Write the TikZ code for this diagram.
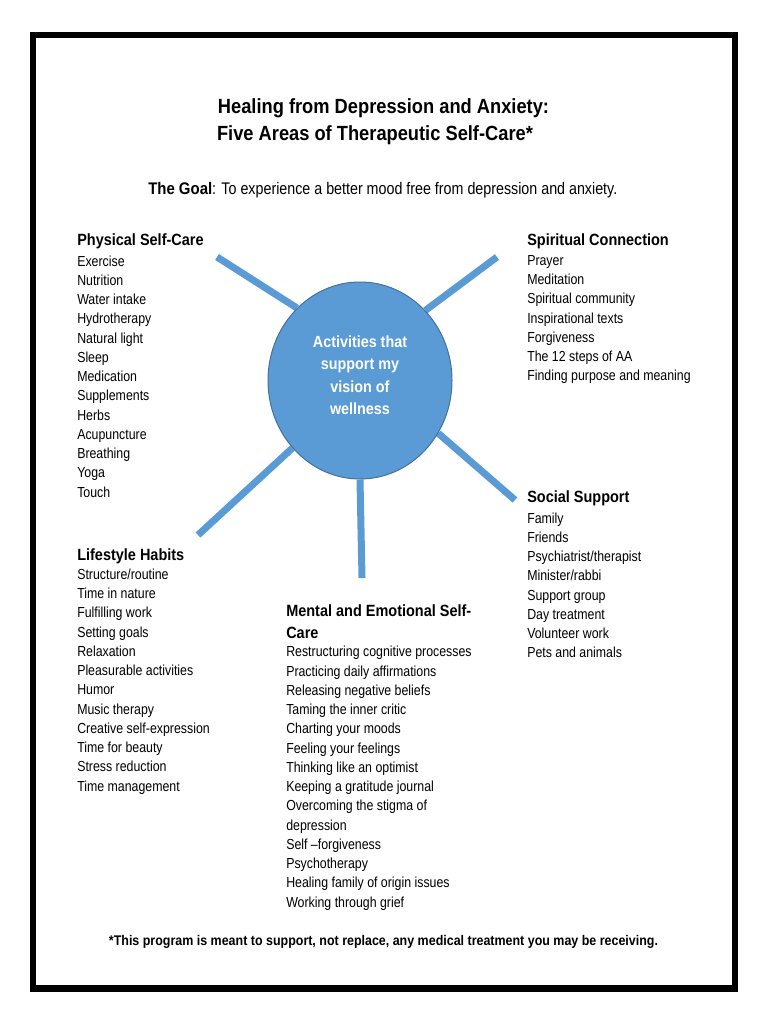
\documentclass[tikz,border=0pt]{standalone}
\usepackage{fontspec}
\setmainfont{Liberation Sans}[FakeStretch=0.85]
\newfontfamily\headfont{Liberation Sans}[FakeStretch=0.89]
\usetikzlibrary{shapes.geometric,backgrounds}

\begin{document}
\begin{tikzpicture}[x=0.75pt,y=0.75pt,yscale=-1,xscale=1,
  spoke/.style={draw={rgb, 255:red, 91; green, 155; blue, 213 }, line width=5.25},
  headtext/.style={anchor=base west, inner sep=0, font=\headfont\bfseries\fontsize{12.2}{16.7}\selectfont},
  itemtext/.style={anchor=north west, inner sep=0, align=left, font=\fontsize{10.9}{14.44}\selectfont}]
\useasboundingbox (0,0) rectangle (768,1024);

%Shape: Rectangle [frame]
\draw [line width=4.9]  (33,35) rectangle (735,988.5) ;

% Text Node
\draw (383.5,113.5) node (title) [anchor=base][inner sep=0] [font=\headfont\bfseries\fontsize{15.4}{18}\selectfont]  {Healing from Depression and Anxiety:};
% Text Node
\draw (375,140.7) node (subtitle) [anchor=base][inner sep=0] [font=\headfont\bfseries\fontsize{15.4}{18}\selectfont]  {Five Areas of Therapeutic Self-Care*};
% Text Node
\draw (148,194) node (goal) [anchor=base west][inner sep=0] [font=\fontsize{12.6}{15}\selectfont]  {{\headfont\bfseries The Goal}: To experience a better mood free from depression and anxiety.};

%Shape: Ellipse [hub]
\node (hub) [ellipse, draw={rgb, 255:red, 65; green, 113; blue, 156 }, line width=0.75, fill={rgb, 255:red, 91; green, 155; blue, 213 }, minimum width=138pt, minimum height=147.75pt, inner sep=0] at (360,380.5) {};
% Text Node
\node (hubtext) [align=center, inner sep=0, text=white, font=\headfont\bfseries\fontsize{12.1}{16.9}\selectfont] at ([yshift=-4pt]hub.center) {Activities that\\support my\\vision of\\wellness};

% spoke ends
\coordinate (physend) at (217,257);
\coordinate (spirend) at (497,257);
\coordinate (lifeend) at (198,535);
\coordinate (socialend) at (515,500);
\coordinate (mentalend) at (362,578);

%Straight Lines [spokes]
\begin{scope}[on background layer]
\draw [spoke]  (hub.131) -- (physend) ;
\draw [spoke]  (hub.47) -- (spirend) ;
\draw [spoke]  (hub.225) -- (lifeend) ;
\draw [spoke]  (hub.326) -- (socialend) ;
\draw [spoke]  (hub.270) -- (mentalend) ;
\end{scope}

% Text Node
\draw (77,245) node (physhead) [headtext]  {Physical Self-Care};
% Text Node
\draw (77,255.2) node (physlist) [itemtext]  {Exercise\\Nutrition\\Water intake\\Hydrotherapy\\Natural light\\Sleep\\Medication\\Supplements\\Herbs\\Acupuncture\\Breathing\\Yoga\\Touch};
% Text Node
\draw (527,245) node (spirhead) [headtext]  {Spiritual Connection};
% Text Node
\draw (527,255.2) node (spirlist) [itemtext]  {Prayer\\Meditation\\Spiritual community\\Inspirational texts\\Forgiveness\\The 12 steps of AA\\Finding purpose and meaning};
% Text Node
\draw (527,502.7) node (socialhead) [headtext]  {Social Support};
% Text Node
\draw (527,512.2) node (sociallist) [itemtext]  {Family\\Friends\\Psychiatrist/therapist\\Minister/rabbi\\Support group\\Day treatment\\Volunteer work\\Pets and animals};
% Text Node
\draw (77,560) node (lifehead) [headtext]  {Lifestyle Habits};
% Text Node
\draw (77,568.5) node (lifelist) [itemtext]  {Structure/routine\\Time in nature\\Fulfilling work\\Setting goals\\Relaxation\\Pleasurable activities\\Humor\\Music therapy\\Creative self-expression\\Time for beauty\\Stress reduction\\Time management};
% Text Node
\draw (286,616) node (mentalhead) [headtext]  {Mental and Emotional Self-};
% Text Node
\draw (286,638.3) node (mentalhead2) [headtext]  {Care};
% Text Node
\draw (286,646) node (mentallist) [itemtext]  {Restructuring cognitive processes\\Practicing daily affirmations\\Releasing negative beliefs\\Taming the inner critic\\Charting your moods\\Feeling your feelings\\Thinking like an optimist\\Keeping a gratitude journal\\Overcoming the stigma of\\depression\\Self –forgiveness\\Psychotherapy\\Healing family of origin issues\\Working through grief};

% Text Node
\draw (383.5,945) node (footnote) [anchor=base][inner sep=0] [font=\headfont\bfseries\fontsize{10.5}{13}\selectfont]  {*This program is meant to support, not replace, any medical treatment you may be receiving.};

\end{tikzpicture}
\end{document}
